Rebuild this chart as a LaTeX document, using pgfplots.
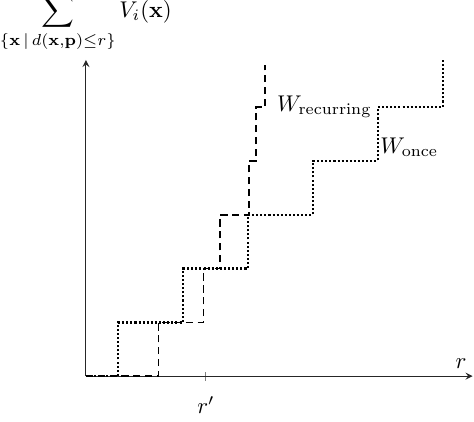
\documentclass[border=0pt]{standalone}
\usepackage{pgfplots}
\pgfplotsset{compat=1.18}

\begin{document}
\begin{tikzpicture}
  \begin{axis}[
      x=28.53pt, y=23.64pt,
      xmin=0, xmax=5.96,
      ymin=0, ymax=5.88,
      axis lines=left,
      axis line style={black!85},
      xtick={1.85}, xticklabels={$r'$},
      ytick=\empty,
      tick style={gray, thin},
      major tick length=4pt,
      tick align=center,
      xticklabel style={yshift=-3.5pt},
      xlabel={$r$},
      ylabel={\raisebox{0pt}[\dimexpr\height-3pt\relax][\depth]{$\displaystyle\sum_{\{\mathbf{x}\,|\,d(\mathbf{x},\mathbf{p})\leq r\}} V_i(\mathbf{x})$}},
      every axis x label/.style={at={(axis cs:5.78,0)}, anchor=south},
      every axis y label/.style={at={(axis description cs:0,1)}, anchor=south,
        inner sep=0pt, yshift=3.5pt},
      clip=false]

    % W_recurring
    \addplot[black, line width=0.7pt, dash pattern=on 3.2pt off 2pt] coordinates {
      (0,0) (1.12,0) (1.12,1) (1.81,1) (1.81,2) (2.07,2) (2.07,3)
      (2.51,3) (2.51,4) (2.62,4) (2.62,5) (2.76,5) (2.76,5.79)
    };

    % W_once
    \addplot[black, line width=1pt, dash pattern=on 0.9pt off 0.9pt] coordinates {
      (0,0) (0.5,0) (0.5,1) (1.5,1) (1.5,2) (2.5,2) (2.5,3)
      (3.5,3) (3.5,4) (4.5,4) (4.5,5) (5.5,5) (5.5,5.88)
    };

    \node[anchor=base west, inner sep=0pt] at (axis cs:2.94,4.92) {$W_{\mathrm{recurring}}$};
    \node[anchor=base west, inner sep=0pt] at (axis cs:4.53,4.14) {$W_{\mathrm{once}}$};
  \end{axis}
\end{tikzpicture}
\end{document}
